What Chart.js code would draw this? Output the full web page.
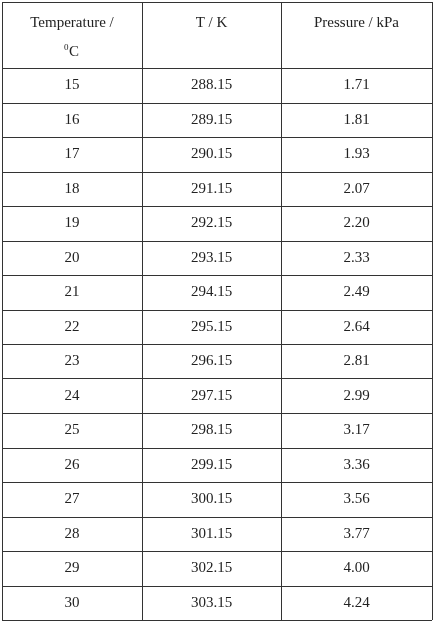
<!DOCTYPE html>
<html>
<head>
<meta charset="utf-8">
<script src="https://cdn.jsdelivr.net/npm/chart.js@4"></script>
<style>
  html, body { margin: 0; padding: 0; background: #fff; }
  #wrap { width: 437px; height: 623px; }
</style>
</head>
<body>
<div id="wrap"><canvas id="myChart"></canvas></div>
<script>
const headers = ["Temperature /", "T / K", "Pressure / kPa"];
const celsius = [15, 16, 17, 18, 19, 20, 21, 22, 23, 24, 25, 26, 27, 28, 29, 30];
const kelvin = ["288.15", "289.15", "290.15", "291.15", "292.15", "293.15", "294.15", "295.15",
  "296.15", "297.15", "298.15", "299.15", "300.15", "301.15", "302.15", "303.15"];
const pressure = ["1.71", "1.81", "1.93", "2.07", "2.20", "2.33", "2.49", "2.64",
  "2.81", "2.99", "3.17", "3.36", "3.56", "3.77", "4.00", "4.24"];

// table layout in scale units (x: column edges, y: header + row height)
const colEdges = [0, 140, 279, 430];
const headerH = 66;
const rowH = 34.5;
const totalH = headerH + rowH * celsius.length;

const colMid = (c) => (colEdges[c] + colEdges[c + 1]) / 2;
const rowMid = (r) => headerH + rowH * (r + 0.5);

const columns = [celsius.map(String), kelvin, pressure];
const cells = [];
columns.forEach((col, c) => col.forEach((v, r) => cells.push({ x: colMid(c), y: rowMid(r), text: v })));

const tablePlugin = {
  id: "table",
  afterDatasetsDraw(chart) {
    const { ctx, scales: { x, y } } = chart;
    ctx.save();
    ctx.strokeStyle = "#333";
    ctx.lineWidth = 1;
    ctx.beginPath();
    colEdges.forEach((e) => {
      const px = Math.round(x.getPixelForValue(e)) + 0.5;
      ctx.moveTo(px, y.getPixelForValue(0));
      ctx.lineTo(px, y.getPixelForValue(totalH));
    });
    const rowLines = [0, headerH];
    celsius.forEach((_, r) => rowLines.push(headerH + rowH * (r + 1)));
    rowLines.forEach((e) => {
      const py = Math.round(y.getPixelForValue(e)) + 0.5;
      ctx.moveTo(x.getPixelForValue(0), py);
      ctx.lineTo(x.getPixelForValue(colEdges[3]), py);
    });
    ctx.stroke();

    ctx.fillStyle = "#222";
    ctx.textAlign = "center";
    ctx.textBaseline = "middle";
    ctx.font = "15px 'Liberation Serif'";
    // header
    headers.forEach((h, c) => ctx.fillText(h, x.getPixelForValue(colMid(c)), y.getPixelForValue(21)));
    const cx = x.getPixelForValue(colMid(0)), cy = y.getPixelForValue(50);
    ctx.textAlign = "left";
    ctx.fillText("C", cx - 3, cy);
    ctx.font = "9px 'Liberation Serif'";
    ctx.fillText("0", cx - 8, cy - 4);
    // body cells from dataset points
    ctx.font = "15px 'Liberation Serif'";
    ctx.textAlign = "center";
    const meta = chart.getDatasetMeta(0);
    meta.data.forEach((pt, i) => ctx.fillText(cells[i].text, pt.x, pt.y));
    ctx.restore();
  },
};

new Chart(document.getElementById("myChart").getContext("2d"), {
  type: "scatter",
  data: { datasets: [{ data: cells.map((c) => ({ x: c.x, y: c.y })), pointRadius: 0 }] },
  options: {
    responsive: true,
    maintainAspectRatio: false,
    animation: false,
    layout: { padding: { left: 2, right: 5, top: 2, bottom: 3 } },
    plugins: { legend: { display: false }, tooltip: { enabled: false } },
    scales: {
      x: { type: "linear", display: false, min: 0, max: colEdges[3] },
      y: { type: "linear", display: false, min: 0, max: totalH, reverse: true },
    },
  },
  plugins: [tablePlugin],
});
</script>
</body>
</html>
